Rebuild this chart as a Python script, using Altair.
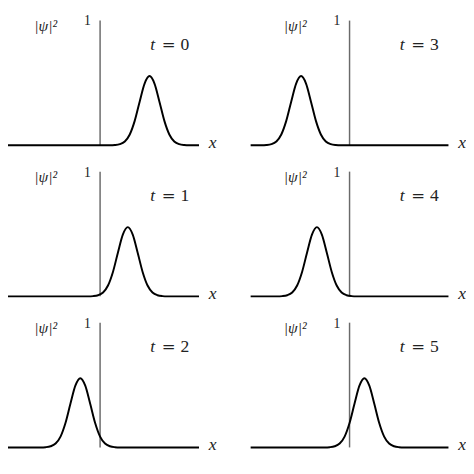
import altair as alt
import pandas as pd

# Panel labels (time) and the packet centre read in each panel (x-units, axis spans -5..5)
T_VALUES = [0, 3, 1, 4, 2, 5]
CENTERS = [2.5, -2.45, 1.4, -1.65, -1.0, 0.75]

# Shape of |psi|^2: offsets from the peak and heights (axis top = 1)
PROFILE_DX = [-2.0, -1.75, -1.5, -1.25, -1.0, -0.75, -0.5, -0.25, 0.0,
              0.25, 0.5, 0.75, 1.0, 1.25, 1.5, 1.75, 2.0]
PROFILE_Y = [0.0, 0.002, 0.009, 0.031, 0.087, 0.196, 0.35, 0.495, 0.555,
             0.495, 0.35, 0.196, 0.087, 0.031, 0.009, 0.002, 0.0]

X_MIN, X_MAX = -5, 5
W, H = 203, 128
SERIF = "Liberation Serif"
TXT = "#222222"


def panel(t, c):
    xs = [X_MIN] + [c + d for d in PROFILE_DX] + [X_MAX]
    ys = [0.0] + PROFILE_Y + [0.0]
    df = pd.DataFrame({"x": xs, "y": ys})
    xsc = alt.Scale(domain=[X_MIN, X_MAX], nice=False, zero=False)
    ysc = alt.Scale(domain=[0, 1], nice=False)

    vaxis = alt.Chart(pd.DataFrame({"x": [0], "y": [0], "y2": [1]})).mark_rule(
        color="#6a6a6a", strokeWidth=1.5
    ).encode(
        x=alt.X("x:Q", scale=xsc, axis=None),
        y=alt.Y("y:Q", scale=ysc, axis=None),
        y2="y2:Q",
    )
    curve = alt.Chart(df).mark_line(
        color="black", strokeWidth=2, interpolate="monotone", clip=False
    ).encode(
        x=alt.X("x:Q", scale=xsc, axis=None),
        y=alt.Y("y:Q", scale=ysc, axis=None),
    )

    def txt(s, x, y, size, style="normal", align="left", font=SERIF):
        return alt.Chart(pd.DataFrame({"s": [s]})).mark_text(
            font=font, fontSize=size, fontStyle=style, align=align,
            baseline="alphabetic", color=TXT
        ).encode(text="s:N", x=alt.value(x), y=alt.value(y))

    one = txt("1", 92, 5, 14, align="right")
    psi = txt("|ψ|²", 34, 11, 16, style="italic")
    t_lab = txt("t", 153, 30, 18, style="italic")
    eq = txt("=", 172, 30, 17, align="center", font="DejaVu Serif")
    num = txt(str(t), 188.5, 30, 18, align="center")
    xlab = txt("x", 217, 131, 18, style="italic", align="center")

    return alt.layer(vaxis, curve, one, psi, t_lab, eq, num, xlab).properties(
        width=W, height=H
    )


panels = [panel(t, c) for t, c in zip(T_VALUES, CENTERS)]

chart = alt.concat(
    *panels, columns=2, spacing={"row": 27, "column": 53}, bounds="flush"
).properties(
    padding={"left": -11, "top": 1, "right": 0, "bottom": 0}
).configure_view(stroke=None)

chart.save("out.html", embed_options={"renderer": "svg", "actions": False})
